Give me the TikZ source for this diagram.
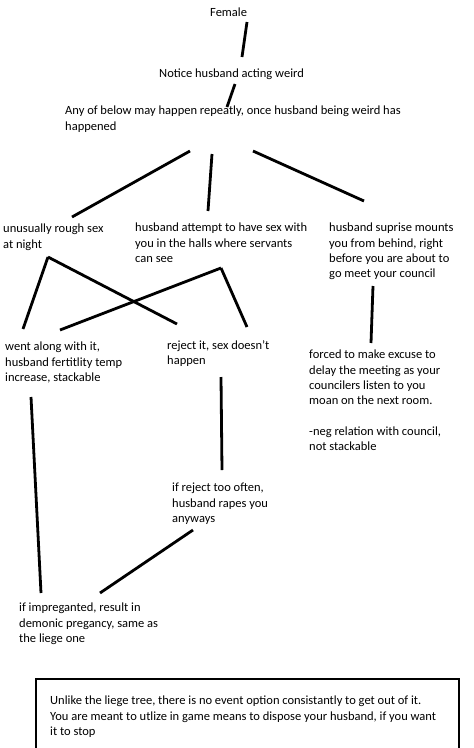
\documentclass[tikz,border=0pt]{standalone}
\usepackage{fontspec}
\setmainfont{Carlito}
\usetikzlibrary{positioning,calc}

\begin{document}
\begin{tikzpicture}[x=1pt, y=-1pt,
    txt/.style={anchor=north west, inner sep=0pt, align=left, text=black,
                font=\fontsize{12.5}{15.3}\selectfont},
    stroke/.style={line width=2.8pt}]
  % Define dimensions
  \def\W{474}
  \def\H{748}
  \useasboundingbox (0,0) rectangle (\W,\H);

  % Text blocks
  \node[txt] (female)  at (210,8)   {Female};
  \node[txt] (notice)  at (159,69)  {Notice husband acting weird};
  \node[txt] (anyof)   at (65,106)  {Any of below may happen repeatly, once husband being weird has\\happened};
  \node[txt] (rough)   at (3,224)   {unusually rough sex\\at night};
  \node[txt] (halls)   at (135,223) {husband attempt to have sex with\\you in the halls where servants\\can see};
  \node[txt] (mounts)  at (329,223) {husband suprise mounts\\you from behind, right\\before you are about to\\go meet your council};
  \node[txt] (along)   at (5,342)   {went along with it,\\husband fertitlity temp\\increase, stackable};
  \node[txt] (reject)  at (167,340) {reject it, sex doesn't\\happen};
  \node[txt] (excuse)  at (309,350) {forced to make excuse to\\delay the meeting as your\\councilers listen to you\\moan on the next room.\\[15.3pt]-neg relation with council,\\not stackable};
  \node[txt] (rapes)   at (172,483) {if reject too often,\\husband rapes you\\anyways};
  \node[txt] (demonic) at (19,603)  {if impreganted, result in\\demonic pregancy, same as\\the liege one};

  % Note box (runs off the bottom edge)
  \draw[line width=2pt] (36,679) rectangle (459,\H+20);
  \node[txt] (note) at (50,696) {Unlike the liege tree, there is no event option consistantly to get out of it.\\You are meant to utlize in game means to dispose your husband, if you want\\it to stop};

  % Define points
  \coordinate (F1) at (247,22);   \coordinate (F2) at (242,57);
  \coordinate (N1) at (235,84);   \coordinate (N2) at (227,107);
  \coordinate (A1) at (190,151);  \coordinate (A2) at (212,154);  \coordinate (A3) at (253,151);
  \coordinate (R0) at (72,217);   \coordinate (H0) at (208,211);  \coordinate (M0) at (364,201);
  \coordinate (R1) at (48,257);   \coordinate (H1) at (221,268);  \coordinate (M1) at (373,286);
  \coordinate (G0) at (23,329);   \coordinate (G1) at (60,330);
  \coordinate (J0) at (177,324);  \coordinate (J1) at (247,327);  \coordinate (E0) at (371,343);
  \coordinate (G2) at (31,397);   \coordinate (J2) at (221,377);
  \coordinate (P0) at (222,470);  \coordinate (P1) at (193,530);
  \coordinate (D0) at (41,593);   \coordinate (D1) at (100,593);

  % Draw connectors
  \foreach \a/\b in {F1/F2, N1/N2, A1/R0, A2/H0, A3/M0,
                     R1/G0, R1/J0, H1/G1, H1/J1, M1/E0,
                     G2/D0, J2/P0, P1/D1}
      \draw[stroke] (\a) -- (\b);

\end{tikzpicture}
\end{document}
